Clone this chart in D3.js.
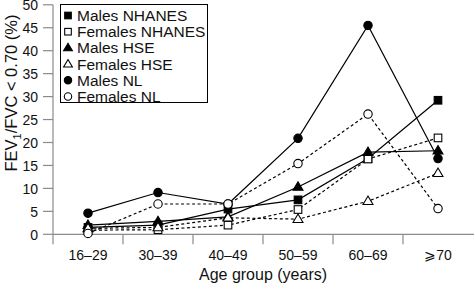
<!DOCTYPE html>
<html><head><meta charset="utf-8">
<script src="https://cdn.jsdelivr.net/npm/d3@7"></script>
<style>body{margin:0;background:#fff}svg{display:block}text{font-family:"Liberation Sans",Arial,Helvetica,sans-serif}</style>
</head><body><svg id="c" width="474" height="284"></svg>
<script>
const categories = ["16–29","30–39","40–49","50–59","60–69","⩾70"];
const yTicks = [0,5,10,15,20,25,30,35,40,45,50];
const maleNHANES   = [1.5, 2.0, 5.5, 7.5, 16.5, 29.2];
const femaleNHANES = [0.9, 1.0, 2.0, 5.4, 16.4, 21.0];
const maleHSE      = [2.0, 2.8, 3.8, 10.3, 17.9, 18.2];
const femaleHSE    = [1.3, 1.5, 3.6, 3.3, 7.2, 13.3];
const maleNL       = [4.6, 9.1, 6.6, 20.9, 45.5, 16.5];
const femaleNL     = [0.2, 6.6, 6.6, 15.4, 26.2, 5.6];
const seriesNames = ["Males NHANES","Females NHANES","Males HSE","Females HSE","Males NL","Females NL"];

const series = [
  {name:seriesNames[0], values:maleNHANES, shape:"square", filled:true, dashed:false},
  {name:seriesNames[1], values:femaleNHANES, shape:"square", filled:false, dashed:true},
  {name:seriesNames[2], values:maleHSE, shape:"triangle", filled:true, dashed:false},
  {name:seriesNames[3], values:femaleHSE, shape:"triangle", filled:false, dashed:true},
  {name:seriesNames[4], values:maleNL, shape:"circle", filled:true, dashed:false},
  {name:seriesNames[5], values:femaleNL, shape:"circle", filled:false, dashed:true}
];

const svg = d3.select("#c");
const x = d3.scaleBand().domain(categories).range([53,473]);
const y = d3.scaleLinear().domain([0,50]).range([234.3,4.8]);
const axisCol = "#8a8a8a";

// axes
svg.append("line").attr("x1",53).attr("x2",474).attr("y1",y(0)).attr("y2",y(0)).attr("stroke",axisCol).attr("stroke-width",1.2);
svg.append("line").attr("x1",53).attr("x2",53).attr("y1",y(50)).attr("y2",y(0)+10).attr("stroke",axisCol).attr("stroke-width",1.2);
const bounds = categories.slice(1).map(c=>x(c));
svg.selectAll(".xt").data(bounds).enter().append("line")
  .attr("x1",d=>d).attr("x2",d=>d).attr("y1",y(0)).attr("y2",y(0)+10).attr("stroke",axisCol).attr("stroke-width",1.2);
svg.selectAll(".yt").data(yTicks).enter().append("line")
  .attr("x1",43).attr("x2",53).attr("y1",d=>y(d)).attr("y2",d=>y(d)).attr("stroke",axisCol).attr("stroke-width",1.2);
svg.selectAll(".yl").data(yTicks).enter().append("text")
  .attr("x",38).attr("y",d=>y(d)+5.3).attr("text-anchor","end").attr("font-size",14).attr("fill","#111").text(d=>d);
svg.selectAll(".xl").data(categories).enter().append("text")
  .attr("x",d=>x(d)+x.bandwidth()/2).attr("y",260).attr("text-anchor","middle").attr("font-size",14).attr("fill","#111").text(d=>d);
svg.append("text").attr("x",263).attr("y",280).attr("text-anchor","middle").attr("font-size",16).attr("fill","#111").text("Age group (years)");
const yt = svg.append("text").attr("transform","translate(17,93) rotate(-90)").attr("text-anchor","middle").attr("font-size",16.5).attr("fill","#111");
yt.append("tspan").text("FEV");
yt.append("tspan").attr("font-size",11).attr("dy",4).text("1");
yt.append("tspan").attr("dy",-4).text("/FVC < 0.70 (%)");

function marker(g, shape, filled, cx, cy, s){
  const fill = filled ? "#000" : "#fff";
  if(shape==="square") g.append("rect").attr("x",cx-s).attr("y",cy-s).attr("width",2*s).attr("height",2*s).attr("fill",fill).attr("stroke","#000").attr("stroke-width",1.1);
  else if(shape==="circle") g.append("circle").attr("cx",cx).attr("cy",cy).attr("r",s+0.4).attr("fill",fill).attr("stroke","#000").attr("stroke-width",1.1);
  else {
    const h = s*1.15;
    g.append("path").attr("d",`M${cx},${cy-h-0.8}L${cx+h+0.6},${cy+h*0.75}L${cx-h-0.6},${cy+h*0.75}Z`).attr("fill",fill).attr("stroke","#000").attr("stroke-width",1.1);
  }
}

const line = d3.line().x((d,i)=>x(categories[i])+x.bandwidth()/2).y(d=>y(d));
series.forEach(s=>{
  svg.append("path").attr("d",line(s.values)).attr("fill","none").attr("stroke","#000").attr("stroke-width",1.2)
    .attr("stroke-dasharray",s.dashed?"3,2.5":null);
});
series.forEach(s=>{
  const g = svg.append("g");
  s.values.forEach((v,i)=>marker(g,s.shape,s.filled,x(categories[i])+x.bandwidth()/2,y(v),3.8));
});

// legend
const lg = svg.append("g");
lg.append("rect").attr("x",60.5).attr("y",4.5).attr("width",147).attr("height",98).attr("fill","#fff").attr("stroke","#000").attr("stroke-width",1);
series.forEach((s,i)=>{
  const cy = 15.5 + i*16.2;
  marker(lg,s.shape,s.filled,68,cy,3.3);
  lg.append("text").attr("x",77).attr("y",cy+5.5).attr("font-size",15.5).attr("fill","#111").text(s.name);
});
</script></body></html>
